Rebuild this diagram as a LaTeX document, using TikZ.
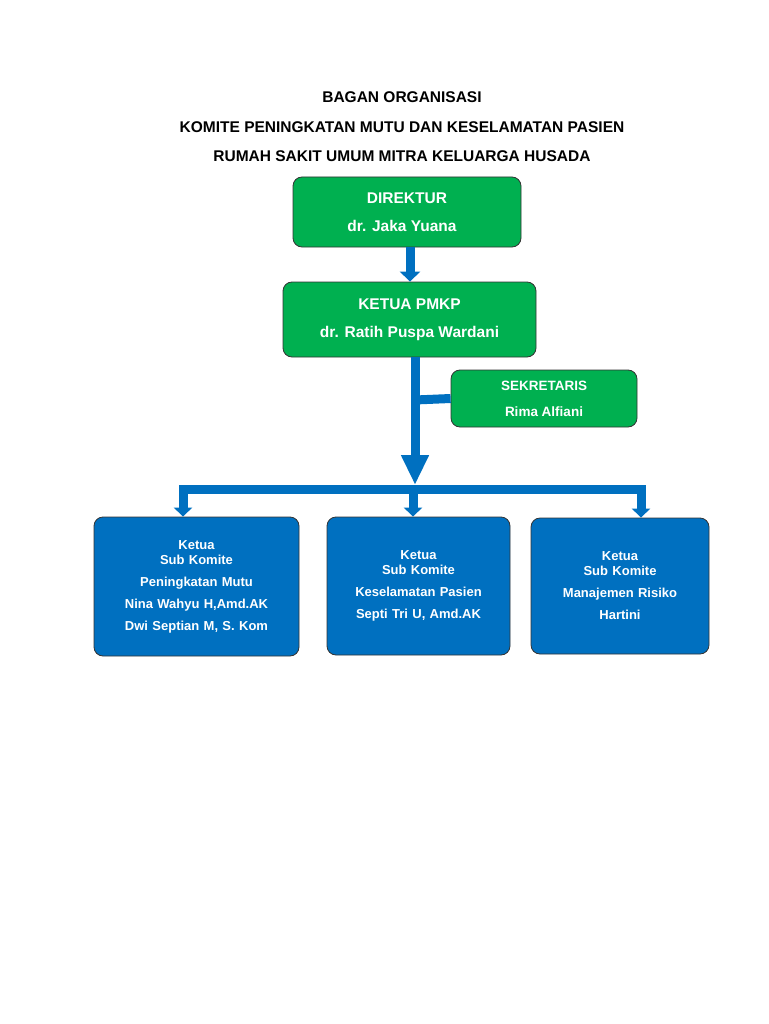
\documentclass[tikz,border=0pt]{standalone}
\usepackage{fontspec}
\setmainfont{Liberation Sans}
\usetikzlibrary{arrows.meta}
\definecolor{gr}{HTML}{00B050}
\definecolor{bl}{HTML}{0070C0}
\begin{document}
\begin{tikzpicture}[x=1pt,y=-1pt,
 box/.style={draw=black!80,line width=0.8pt,rounded corners=9pt,text=white,font=\bfseries,align=center,inner sep=0pt},
 gbox/.style={box,fill=gr},
 bbox/.style={box,fill=bl,font=\bfseries\fontsize{13}{19}\selectfont},
 conn/.style={draw=bl,line width=9pt},
 arr/.style={conn,-{Triangle[length=9pt,width=18pt]}},
 ttl/.style={font=\bfseries\fontsize{15.5}{18}\selectfont}]
\useasboundingbox (0,0) rectangle (768,1024);
\node[ttl] (t1) at (402,97) {BAGAN ORGANISASI};
\node[ttl] (t2) at (402,127) {KOMITE PENINGKATAN MUTU DAN KESELAMATAN PASIEN};
\node[ttl] (t3) at (402,156) {RUMAH SAKIT UMUM MITRA KELUARGA HUSADA};
\node[gbox,minimum width=228pt,minimum height=70pt,font=\bfseries\fontsize{15.5}{28}\selectfont] (dir) at (407,212) {DIREKTUR\\dr. Jaka Yuana\hspace*{10pt}};
\node[gbox,minimum width=253pt,minimum height=75pt,font=\bfseries\fontsize{15.5}{28}\selectfont] (ket) at (409.5,319.5) {KETUA PMKP\\dr. Ratih Puspa Wardani};
\node[gbox,minimum width=186pt,minimum height=57pt,font=\bfseries\fontsize{13.5}{26}\selectfont] (sek) at (544,398.5) {SEKRETARIS\\Rima Alfiani};
\node[bbox,minimum width=205pt,minimum height=139pt,text width=200pt] (b1) at (196.5,586.5) {Ketua\\[-4pt]Sub Komite\\[3pt]Peningkatan Mutu\\[3pt]Nina Wahyu H,Amd.AK\\[3pt]Dwi Septian M, S. Kom\\[20pt]};
\node[bbox,minimum width=183pt,minimum height=138pt,text width=180pt] (b2) at (418.5,586) {Ketua\\[-4pt]Sub Komite\\[3pt]Keselamatan Pasien\\[3pt]Septi Tri U, Amd.AK\\[45pt]};
\node[bbox,minimum width=178pt,minimum height=136pt,text width=175pt] (b3) at (620,586) {Ketua\\[-4pt]Sub Komite\\[3pt]Manajemen Risiko\\[3pt]Hartini\\[45pt]};
\coordinate (d0) at (410,247);
\draw[arr,-{Triangle[length=10pt,width=20pt]}] (d0) -- (d0|-ket.north);
\coordinate (m) at (415,400);
\coordinate (k0) at (415,357);
\coordinate (mj) at (415,485);
\coordinate (hl) at (183,489);
\coordinate (hr) at (645,489);
\coordinate (a1) at (183,485);
\coordinate (a2) at (413,485);
\coordinate (a3) at (641,485);
\draw[conn] (k0) -- (m);
\draw[conn] (m) -- (sek.west);
\draw[conn,-{Triangle[length=30pt,width=26pt]}] (m) -- (mj);
\draw[conn] (hl) -- (hr);
\draw[arr] (a1) -- (a1|-b1.north);
\draw[arr] (a2) -- (a2|-b2.north);
\draw[arr] (a3) -- (a3|-b3.north);
\end{tikzpicture}
\end{document}
